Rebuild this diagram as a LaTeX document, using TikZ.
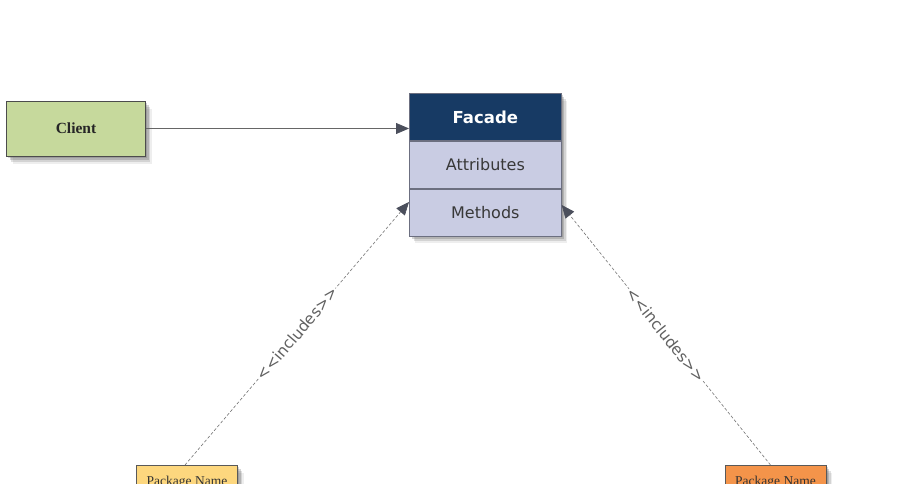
\documentclass[tikz,border=0pt]{standalone}
\usepackage{fontspec}
\newfontfamily\dejavu{DejaVu Sans}
\newfontfamily\libserif{Liberation Serif}
\usetikzlibrary{arrows.meta,shadows}
\definecolor{clientfill}{HTML}{C6D99C}
\definecolor{navy}{HTML}{173A64}
\definecolor{lav}{HTML}{C9CCE3}
\definecolor{lavline}{HTML}{6C6F80}
\definecolor{pkgyellow}{HTML}{FDD77E}
\definecolor{pkgorange}{HTML}{F4944A}
\definecolor{tipcol}{HTML}{4B4F5C}
\definecolor{shadowcol}{HTML}{5A5A5A}
\tikzset{
  boxshadow/.style={
    drop shadow={shadow xshift=1.5pt,shadow yshift=-2pt,fill=shadowcol,opacity=0.25},
    drop shadow={shadow xshift=3pt,shadow yshift=-4pt,fill=shadowcol,opacity=0.25},
    drop shadow={shadow xshift=4.5pt,shadow yshift=-6pt,fill=shadowcol,opacity=0.18},
    drop shadow={shadow xshift=6pt,shadow yshift=-8pt,fill=shadowcol,opacity=0.10}},
  clientbox/.style={boxshadow,draw=black!70,line width=0.8pt,fill=clientfill,minimum width=139pt,minimum height=55pt,inner sep=0pt,font=\libserif\bfseries\fontsize{15.5}{18}\selectfont,text=black!85},
  facadehead/.style={draw=lavline,line width=0.7pt,fill=navy,minimum width=152pt,minimum height=47.3pt,inner sep=0pt,font=\dejavu\bfseries\fontsize{16.5}{19}\selectfont,text=white},
  compart/.style={draw=lavline,line width=0.7pt,fill=lav,minimum width=152pt,minimum height=47.3pt,inner sep=0pt,font=\dejavu\fontsize{16}{19}\selectfont,text=black!78},
  facadeshadow/.style={boxshadow,fill=lav,minimum width=152pt,minimum height=142pt,inner sep=0pt},
  pkgbox/.style={boxshadow,draw=black!65,line width=0.7pt,minimum width=101pt,inner xsep=0pt,inner ysep=11.5pt,text height=9pt,text depth=25pt,font=\libserif\fontsize{13.5}{15}\selectfont,text=black!80},
  assoc/.style={draw=black!60,line width=0.8pt,-{Triangle[length=13pt,width=11pt,fill=tipcol,color=tipcol]}},
  incl/.style={draw=black!55,line width=0.6pt,dash pattern=on 3pt off 2pt,-{Triangle[length=13pt,width=11pt,fill=tipcol,color=tipcol]}},
  incllabel/.style={midway,sloped,fill=white,inner sep=1pt,font=\dejavu\fontsize{15.5}{18}\selectfont,text=black!62}
}
\begin{document}
\begin{tikzpicture}[x=1pt,y=-1pt]
\useasboundingbox (0,0) rectangle (921,484);
\clip (0,0) rectangle (921,484);
\fill[white] (0,0) rectangle (921,484);
% Client
\node[clientbox] (client) at (76,128.5) {Client};
% Facade class
\node[facadeshadow,anchor=north west] (facade) at (409,93) {};
\node[facadehead,anchor=north west] (head) at (409,93) {Facade};
\node[compart,anchor=north] (attr) at (head.south) {Attributes};
\node[compart,anchor=north] (meth) at (attr.south) {Methods};
% Packages
\node[pkgbox,fill=pkgyellow,anchor=north] (pkgL) at (187,465) {Package Name};
\node[pkgbox,fill=pkgorange,anchor=north] (pkgR) at (775.5,465) {Package Name};
% connectors
\draw[assoc] (client.east) -- (client.east -| head.west);
\coordinate (inL) at ([yshift=11pt]meth.west);
\coordinate (inR) at ([yshift=8pt]meth.east);
\draw[incl] ([xshift=-2pt]pkgL.north) -- node[incllabel] {<<includes>>} (inL);
\draw[incl] ([xshift=-5pt]pkgR.north) -- node[incllabel] {<<includes>>} (inR);
\end{tikzpicture}
\end{document}
